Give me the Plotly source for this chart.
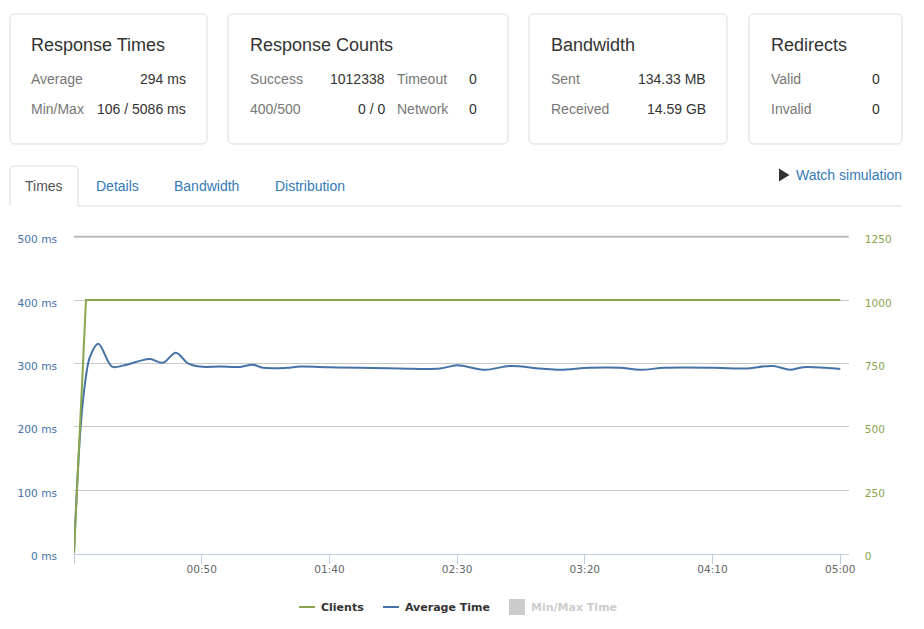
import plotly.graph_objects as go

# ---------------- data ----------------
avg_time_s = [0, 0.7, 2.6, 4.7, 6.3, 9.5, 14.9, 19.2, 25.8, 29.8, 34.8, 39.9, 44.6, 49.3,
              57.2, 65, 70, 74, 83.4, 88.5, 100, 112, 127.6, 143.3, 150, 160.9, 170.7,
              182.5, 190.3, 202, 213.8, 221.6, 231.4, 251, 262.7, 273.7, 280.3, 285.4, 294, 300]
avg_time_ms = [0, 65, 200, 280, 311, 331, 295, 296.5, 304, 307, 301, 317, 300, 295,
               295, 294.5, 298, 293, 293, 295, 294, 293, 292, 292, 297, 290, 296,
               292, 290, 293, 293, 290, 293, 293, 292, 296, 290, 294, 293, 291]
clients_time_s = [0, 4.7, 300]
clients_count = [0, 1000, 1000]

x_tick_vals = [0, 50, 100, 150, 200, 250, 300]
x_tick_labels = ["", "00:50", "01:40", "02:30", "03:20", "04:10", "05:00"]
y_left_ticks = [0, 100, 200, 300, 400, 500]
y_left_labels = ["0 ms", "100 ms", "200 ms", "300 ms", "400 ms", "500 ms"]
y_right_ticks = [0, 250, 500, 750, 1000, 1250]

card_titles = ["Response Times", "Response Counts", "Bandwidth", "Redirects"]
rt_labels = ["Average", "Min/Max"]
rt_values = ["294 ms", "106 / 5086 ms"]
rc_labels_a = ["Success", "400/500"]
rc_values_a = ["1012338", "0 / 0"]
rc_labels_b = ["Timeout", "Network"]
rc_values_b = ["0", "0"]
bw_labels = ["Sent", "Received"]
bw_values = ["134.33 MB", "14.59 GB"]
rd_labels = ["Valid", "Invalid"]
rd_values = ["0", "0"]

tab_labels = ["Times", "Details", "Bandwidth", "Distribution"]
legend_labels = ["Clients", "Average Time", "Min/Max Time"]

# ---------------- helpers ----------------
# the page body has an 8px margin, so the figure is sized to fill the rest of the window
OFF = 8
W, H = 924 - OFF, 629 - OFF
def fx(x): return (x - OFF) / W
def fy(y): return 1 - (y - OFF) / H
def P(x, y): return f"{fx(x):.5f},{fy(y):.5f}"

def rrect(x0, y0, x1, y1, r):
    return ("M " + P(x0 + r, y0) + " L " + P(x1 - r, y0) + " Q " + P(x1, y0) + " " + P(x1, y0 + r) +
            " L " + P(x1, y1 - r) + " Q " + P(x1, y1) + " " + P(x1 - r, y1) +
            " L " + P(x0 + r, y1) + " Q " + P(x0, y1) + " " + P(x0, y1 - r) +
            " L " + P(x0, y0 + r) + " Q " + P(x0, y0) + " " + P(x0 + r, y0) + " Z")

BLUE = "#4572A7"
GREEN = "#89A54E"
LINK = "#337ab7"
FONT = "Liberation Sans, Arial, sans-serif"
CFONT = "DejaVu Sans, Verdana, sans-serif"

shapes = []
annotations = []

def text(x, y, s, size=14, color="#333", anchor="left", family=FONT, bold=False):
    annotations.append(dict(x=fx(x), y=fy(y), xref="paper", yref="paper", text=(f"<b>{s}</b>" if bold else s),
                            showarrow=False, xanchor=anchor, yanchor="middle",
                            font=dict(size=size, color=color, family=family), borderpad=0))

# ---------------- cards ----------------
cards = [(10, 207), (228, 508), (529, 727), (749, 902)]
for (x0, x1) in cards:
    shapes.append(dict(type="path", path=rrect(x0, 14, x1, 144, 5), xref="paper", yref="paper",
                       line=dict(color="#dddddd", width=1), fillcolor="white", layer="below"))
title_x = [30, 249, 550, 770]
for t, x in zip(card_titles, title_x):
    text(x, 45, t, size=18, color="#333")
rows_y = [79, 109]
for i, yy in enumerate(rows_y):
    text(30, yy, rt_labels[i], color="#777")
    text(187, yy, rt_values[i], color="#333", anchor="right")
    text(249, yy, rc_labels_a[i], color="#777")
    text(386, yy, rc_values_a[i], color="#333", anchor="right")
    text(396, yy, rc_labels_b[i], color="#777")
    text(478, yy, rc_values_b[i], color="#333", anchor="right")
    text(550, yy, bw_labels[i], color="#777")
    text(707, yy, bw_values[i], color="#333", anchor="right")
    text(770, yy, rd_labels[i], color="#777")
    text(881, yy, rd_values[i], color="#333", anchor="right")

# ---------------- tabs ----------------
shapes.append(dict(type="path", xref="paper", yref="paper", line=dict(color="#dddddd", width=1),
                   path="M " + P(78, 206) + " L " + P(902, 206)))
shapes.append(dict(type="path", xref="paper", yref="paper", line=dict(color="#dddddd", width=1),
                   path="M " + P(10, 206) + " L " + P(10, 170) + " Q " + P(10, 166) + " " + P(14, 166) +
                        " L " + P(74, 166) + " Q " + P(78, 166) + " " + P(78, 170) + " L " + P(78, 206)))
tab_cx = [44, 117.5, 206.5, 310]
for i, (lab, cx) in enumerate(zip(tab_labels, tab_cx)):
    text(cx, 186, lab, color="#555" if i == 0 else LINK, anchor="center")
shapes.append(dict(type="path", xref="paper", yref="paper", line=dict(width=0), fillcolor="#333",
                   path="M " + P(779, 168.5) + " L " + P(789.5, 175) + " L " + P(779, 181.5) + " Z"))
text(795, 175, "Watch simulation", color=LINK)

# ---------------- legend ----------------
LY = 607
shapes.append(dict(type="line", xref="paper", yref="paper", x0=fx(299), x1=fx(315), y0=fy(LY), y1=fy(LY),
                   line=dict(color=GREEN, width=2)))
text(320, LY, legend_labels[0], size=11, color="#333", family=CFONT, bold=True)
shapes.append(dict(type="line", xref="paper", yref="paper", x0=fx(383), x1=fx(399), y0=fy(LY), y1=fy(LY),
                   line=dict(color=BLUE, width=2)))
text(404, LY, legend_labels[1], size=11, color="#333", family=CFONT, bold=True)
shapes.append(dict(type="rect", xref="paper", yref="paper", x0=fx(509), x1=fx(525), y0=fy(599), y1=fy(615),
                   line=dict(width=0), fillcolor="#cccccc"))
text(530, LY, legend_labels[2], size=11, color="#cccccc", family=CFONT, bold=True)

# top grid line (darker, doubled in original)
shapes.append(dict(type="line", xref="paper", yref="paper", x0=fx(74), x1=fx(848.7),
                   y0=fy(236.7), y1=fy(236.7), line=dict(color="#bbbbbb", width=2)))

# ---------------- traces ----------------
fig = go.Figure()
fig.add_trace(go.Scatter(x=clients_time_s, y=clients_count, yaxis="y2", mode="lines", name="Clients",
                         line=dict(color=GREEN, width=2), showlegend=False, hoverinfo="skip"))
fig.add_trace(go.Scatter(x=avg_time_s, y=avg_time_ms, mode="lines", name="Average Time",
                         line=dict(color=BLUE, width=2, shape="spline", smoothing=1.0),
                         showlegend=False, hoverinfo="skip"))

fig.update_layout(
    width=W, height=H, margin=dict(l=0, r=0, t=0, b=0, pad=0), autosize=False,
    paper_bgcolor="white", plot_bgcolor="white", showlegend=False,
    xaxis=dict(domain=[fx(74), fx(848.7)], range=[0, 303.3], tickvals=x_tick_vals, ticktext=x_tick_labels,
               ticks="outside", ticklen=9, tickcolor="#C0D0E0", tickwidth=1, showline=True,
               linecolor="#C0D0E0", linewidth=1, showgrid=False, zeroline=False, automargin=False,
               ticklabelstandoff=-3,
               tickfont=dict(family=CFONT, size=10.6, color="#666"), fixedrange=True),
    yaxis=dict(domain=[fy(553.5), fy(236.7)], range=[0, 500], tickvals=y_left_ticks, ticktext=y_left_labels,
               showgrid=True, gridcolor="#C8C8C8", gridwidth=1, zeroline=False, showline=False,
               ticks="", ticklabelstandoff=16, ticklabelshift=3, automargin=False,
               tickfont=dict(family=CFONT, size=10.6, color=BLUE), fixedrange=True),
    yaxis2=dict(overlaying="y", side="right", anchor="x", range=[0, 1250], tickvals=y_right_ticks,
                showgrid=False, zeroline=False, showline=False, ticks="", ticklabelstandoff=15,
                ticklabelshift=3, automargin=False,
                tickfont=dict(family=CFONT, size=10.6, color=GREEN), fixedrange=True),
    shapes=shapes, annotations=annotations,
)

fig.write_html("out.html")
